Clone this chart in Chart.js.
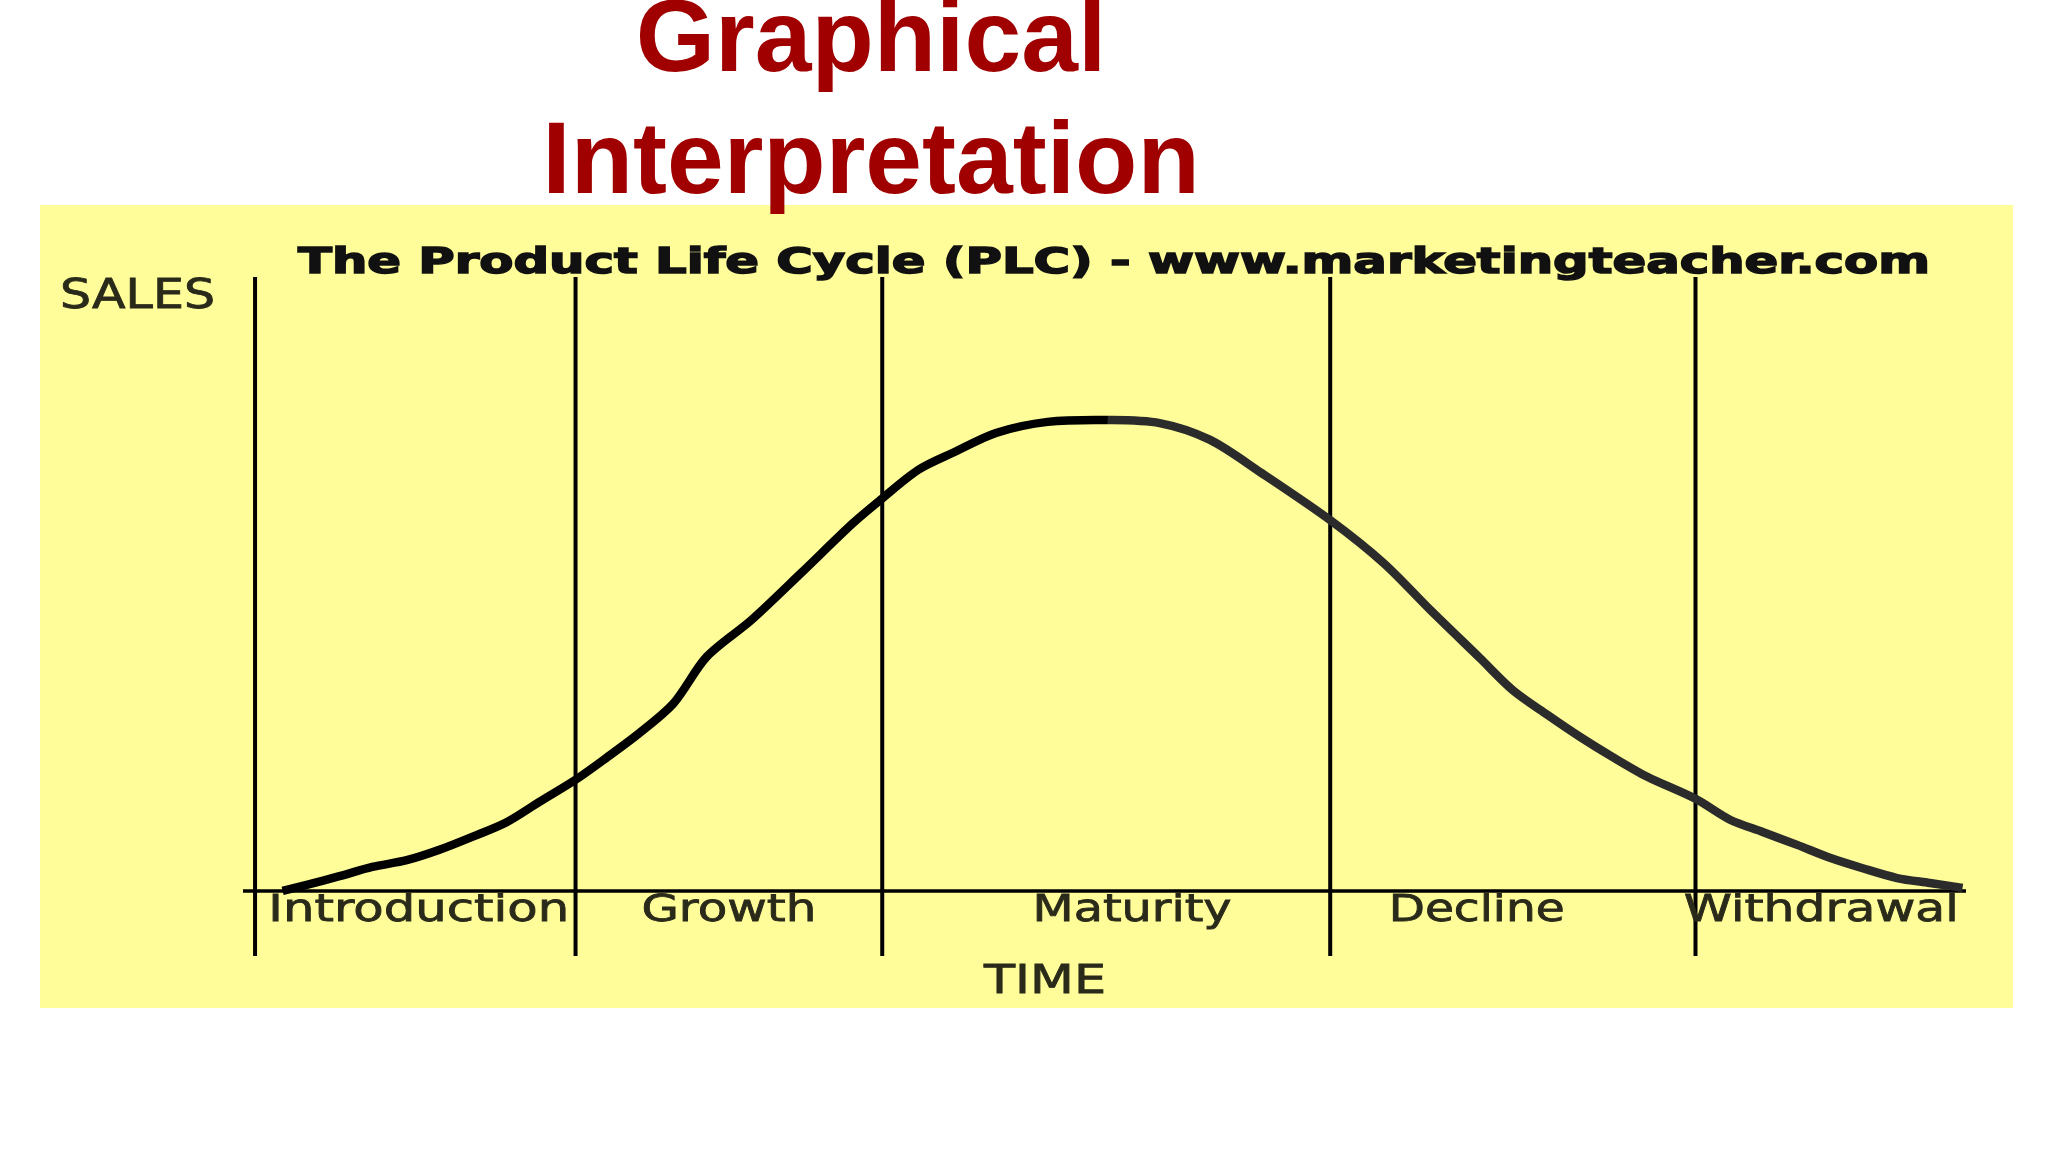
<!DOCTYPE html>
<html>
<head>
    <title>Graphical Interpretation</title>
    <script src="https://cdn.jsdelivr.net/npm/chart.js"></script>
    <style>
        body { margin: 0; background: #ffffff; }
        canvas { display: block; }
    </style>
</head>
<body>
<canvas id="plcChart" width="2048" height="1152"></canvas>
<script>
    // Time axis runs 0..100, sales axis 0..100
    const timeValues = [2.3, 3.7, 5.6, 7.5, 9.5, 11.4, 13.3, 15.3, 17.2, 19.3, 21.1, 23.0, 25.0, 26.9,
        29.5, 32.4, 35.4, 37.0, 39.2, 41.3, 43.7, 46.7, 50.2, 53.2, 56.1, 59.1, 63.1, 66.2, 68.9,
        71.8, 73.7, 75.7, 77.6, 79.5, 81.5, 84.3, 86.3, 88.2, 90.2, 92.1, 94.0, 96.0, 97.9, 99.8];
    const salesValues = [0, 1.0, 2.4, 3.9, 5.0, 6.7, 8.8, 11.2, 14.5, 18.1, 21.7, 25.7, 30.6, 38.1,
        44.1, 51.8, 59.9, 63.7, 68.6, 71.5, 74.6, 76.4, 76.7, 76.2, 73.5, 68.1, 60.4, 53.4, 45.8,
        37.9, 32.7, 28.7, 25.1, 21.8, 18.6, 15.0, 11.6, 9.6, 7.5, 5.4, 3.7, 2.1, 1.3, 0.5];

    // Stage dividers and the stage names under the axis
    const stageBounds = [0.7, 19.3, 37.1, 63.1, 84.3];
    const stageNames = ['Introduction', 'Growth', 'Maturity', 'Decline', 'Withdrawal'];
    const stageLabelAt = [10.2, 28.2, 51.6, 71.6, 91.6];
    const stageLabelWidth = [301, 175, 199, 176, 275];

    const yBottom = -10.6;
    const yTop = 100;

    // text squeezed/stretched to a given width, like the old gif
    function stretchText(ctx, text, x, y, font, width, color, align, thick) {
        ctx.save();
        ctx.font = font;
        ctx.fillStyle = color;
        ctx.strokeStyle = color;
        ctx.textAlign = 'left';
        ctx.textBaseline = 'alphabetic';
        const w = ctx.measureText(text).width;
        const sx = width / w;
        const left = align === 'center' ? x - width / 2 : x;
        ctx.translate(left, y);
        ctx.scale(sx, 1);
        ctx.fillText(text, 0, 0);
        if (thick) {
            ctx.lineWidth = thick;
            ctx.strokeText(text, 0, 0);
        }
        ctx.restore();
    }

    const decor = {
        id: 'decor',
        beforeDraw(chart) {
            const ctx = chart.ctx;
            ctx.save();
            ctx.fillStyle = '#ffffff';
            ctx.fillRect(0, 0, chart.width, chart.height);
            ctx.fillStyle = '#fffd99';
            ctx.fillRect(40, 205, 1973, 803);

            // big slide title
            ctx.fillStyle = '#a00000';
            ctx.font = 'bold 102px "Liberation Sans", Arial, sans-serif';
            ctx.textAlign = 'center';
            ctx.fillText('Graphical', 871, 71);
            ctx.fillText('Interpretation', 871, 193);
            ctx.restore();

            stretchText(ctx, 'The Product Life Cycle (PLC) - www.marketingteacher.com', 298, 273,
                'bold 35px "DejaVu Sans"', 1632, '#111111', 'left', 1.5);
            stretchText(ctx, 'SALES', 60, 308, '40px "DejaVu Sans"', 155, '#2a2a1a', 'left', 0.8);
            stretchText(ctx, 'TIME', 984, 993, '39px "DejaVu Sans"', 122, '#2a2a1a', 'left', 0.8);
        },
        afterDraw(chart) {
            const ctx = chart.ctx;
            const xs = chart.scales.x;
            stageNames.forEach((name, i) => {
                stretchText(ctx, name, xs.getPixelForValue(stageLabelAt[i]), 921,
                    '38px "DejaVu Sans"', stageLabelWidth[i], '#2a2a1a', 'center', 0.8);
            });
        }
    };

    const curve = timeValues.map((t, i) => ({ x: t, y: salesValues[i] }));

    const datasets = [{
        data: curve,
        borderColor: '#000000',
        borderWidth: 8.5,
        tension: 0.3,
        pointRadius: 0,
        segment: {
            borderColor: c => c.p0.parsed.x < 49 ? '#000000' : '#2b2b2b'
        }
    }, {
        // time axis
        data: [{ x: 0, y: 0 }, { x: 100, y: 0 }],
        borderColor: '#000000',
        borderWidth: 3.5,
        pointRadius: 0
    }];

    stageBounds.forEach(b => {
        datasets.push({
            data: [{ x: b, y: yBottom }, { x: b, y: yTop }],
            borderColor: '#000000',
            borderWidth: 4,
            pointRadius: 0
        });
    });

    new Chart(document.getElementById('plcChart').getContext('2d'), {
        type: 'line',
        data: { datasets: datasets },
        options: {
            responsive: false,
            animation: false,
            devicePixelRatio: 1,
            layout: { padding: { left: 243, right: 82, top: 277, bottom: 196 } },
            plugins: { legend: { display: false }, tooltip: { enabled: false } },
            scales: {
                x: { type: 'linear', min: 0, max: 100, display: false },
                y: { min: yBottom, max: yTop, display: false }
            }
        },
        plugins: [decor]
    });
</script>
</body>
</html>
